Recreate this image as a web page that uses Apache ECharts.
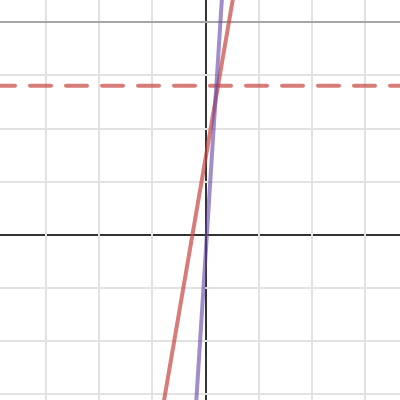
<!DOCTYPE html>
<html>
<head>
<meta charset="utf-8">
<script src="https://cdn.jsdelivr.net/npm/echarts@6/dist/echarts.min.js"></script>
<style>html,body{margin:0;padding:0;background:#fff}#c{width:400px;height:400px}</style>
</head>
<body>
<div id="c"></div>
<script>
// View window (graph units)
var xRange = [-1.931, 1.832];
var yRange = [-1.556, 2.207];
// Grid lines
var minorX = [-1.5, -1, -0.5, 0.5, 1, 1.5];
var minorY = [-1.5, -1, -0.5, 0.5, 1, 1.5];
var majorY = [2];
// Curves
var redX = [-0.4, 0.3];
var redY = [-1.63, 2.45];
var purpleX = [-0.1, 0.17];
var purpleY = [-1.81, 2.43];
var dashedY = 1.40;

function pts(xs, ys){ return xs.map(function(x,i){ return [x, ys[i]]; }); }

var gridLines = [];
minorX.forEach(function(v){ gridLines.push({xAxis: v, lineStyle:{color:'#e2e2e2', width:2, type:'solid'}}); });
minorY.forEach(function(v){ gridLines.push({yAxis: v, lineStyle:{color:'#e2e2e2', width:2, type:'solid'}}); });
majorY.forEach(function(v){ gridLines.push({yAxis: v, lineStyle:{color:'#a6a6a6', width:2, type:'solid'}}); });

var chart = echarts.init(document.getElementById('c'), null, {renderer:'canvas'});
chart.setOption({
  animation:false,
  backgroundColor:'#ffffff',
  grid:{left:0, right:0, top:0, bottom:0},
  xAxis:{type:'value', min:xRange[0], max:xRange[1], axisLabel:{show:false}, axisTick:{show:false}, splitLine:{show:false},
    axisLine:{show:true, onZero:true, lineStyle:{color:'#333', width:2}}, z:3},
  yAxis:{type:'value', min:yRange[0], max:yRange[1], axisLabel:{show:false}, axisTick:{show:false}, splitLine:{show:false},
    axisLine:{show:true, onZero:true, lineStyle:{color:'#333', width:2}}, z:3},
  series:[
    {type:'line', data:[], z:1, silent:true,
     markLine:{silent:true, symbol:['none','none'], label:{show:false}, animation:false, data:gridLines}},
    {type:'line', data:[[xRange[0], dashedY],[xRange[1], dashedY]], showSymbol:false, symbol:'none', z:5,
     lineStyle:{color:'rgba(199,68,64,0.7)', width:4, type:[21,15], dashOffset:6, cap:'round'}},
    {type:'line', data:pts(redX, redY), showSymbol:false, symbol:'none', z:6,
     lineStyle:{color:'rgba(199,68,64,0.7)', width:4, cap:'round'}},
    {type:'line', data:pts(purpleX, purpleY), showSymbol:false, symbol:'none', z:7,
     lineStyle:{color:'rgba(96,66,166,0.6)', width:4, cap:'round'}}
  ]
});
</script>
</body>
</html>
